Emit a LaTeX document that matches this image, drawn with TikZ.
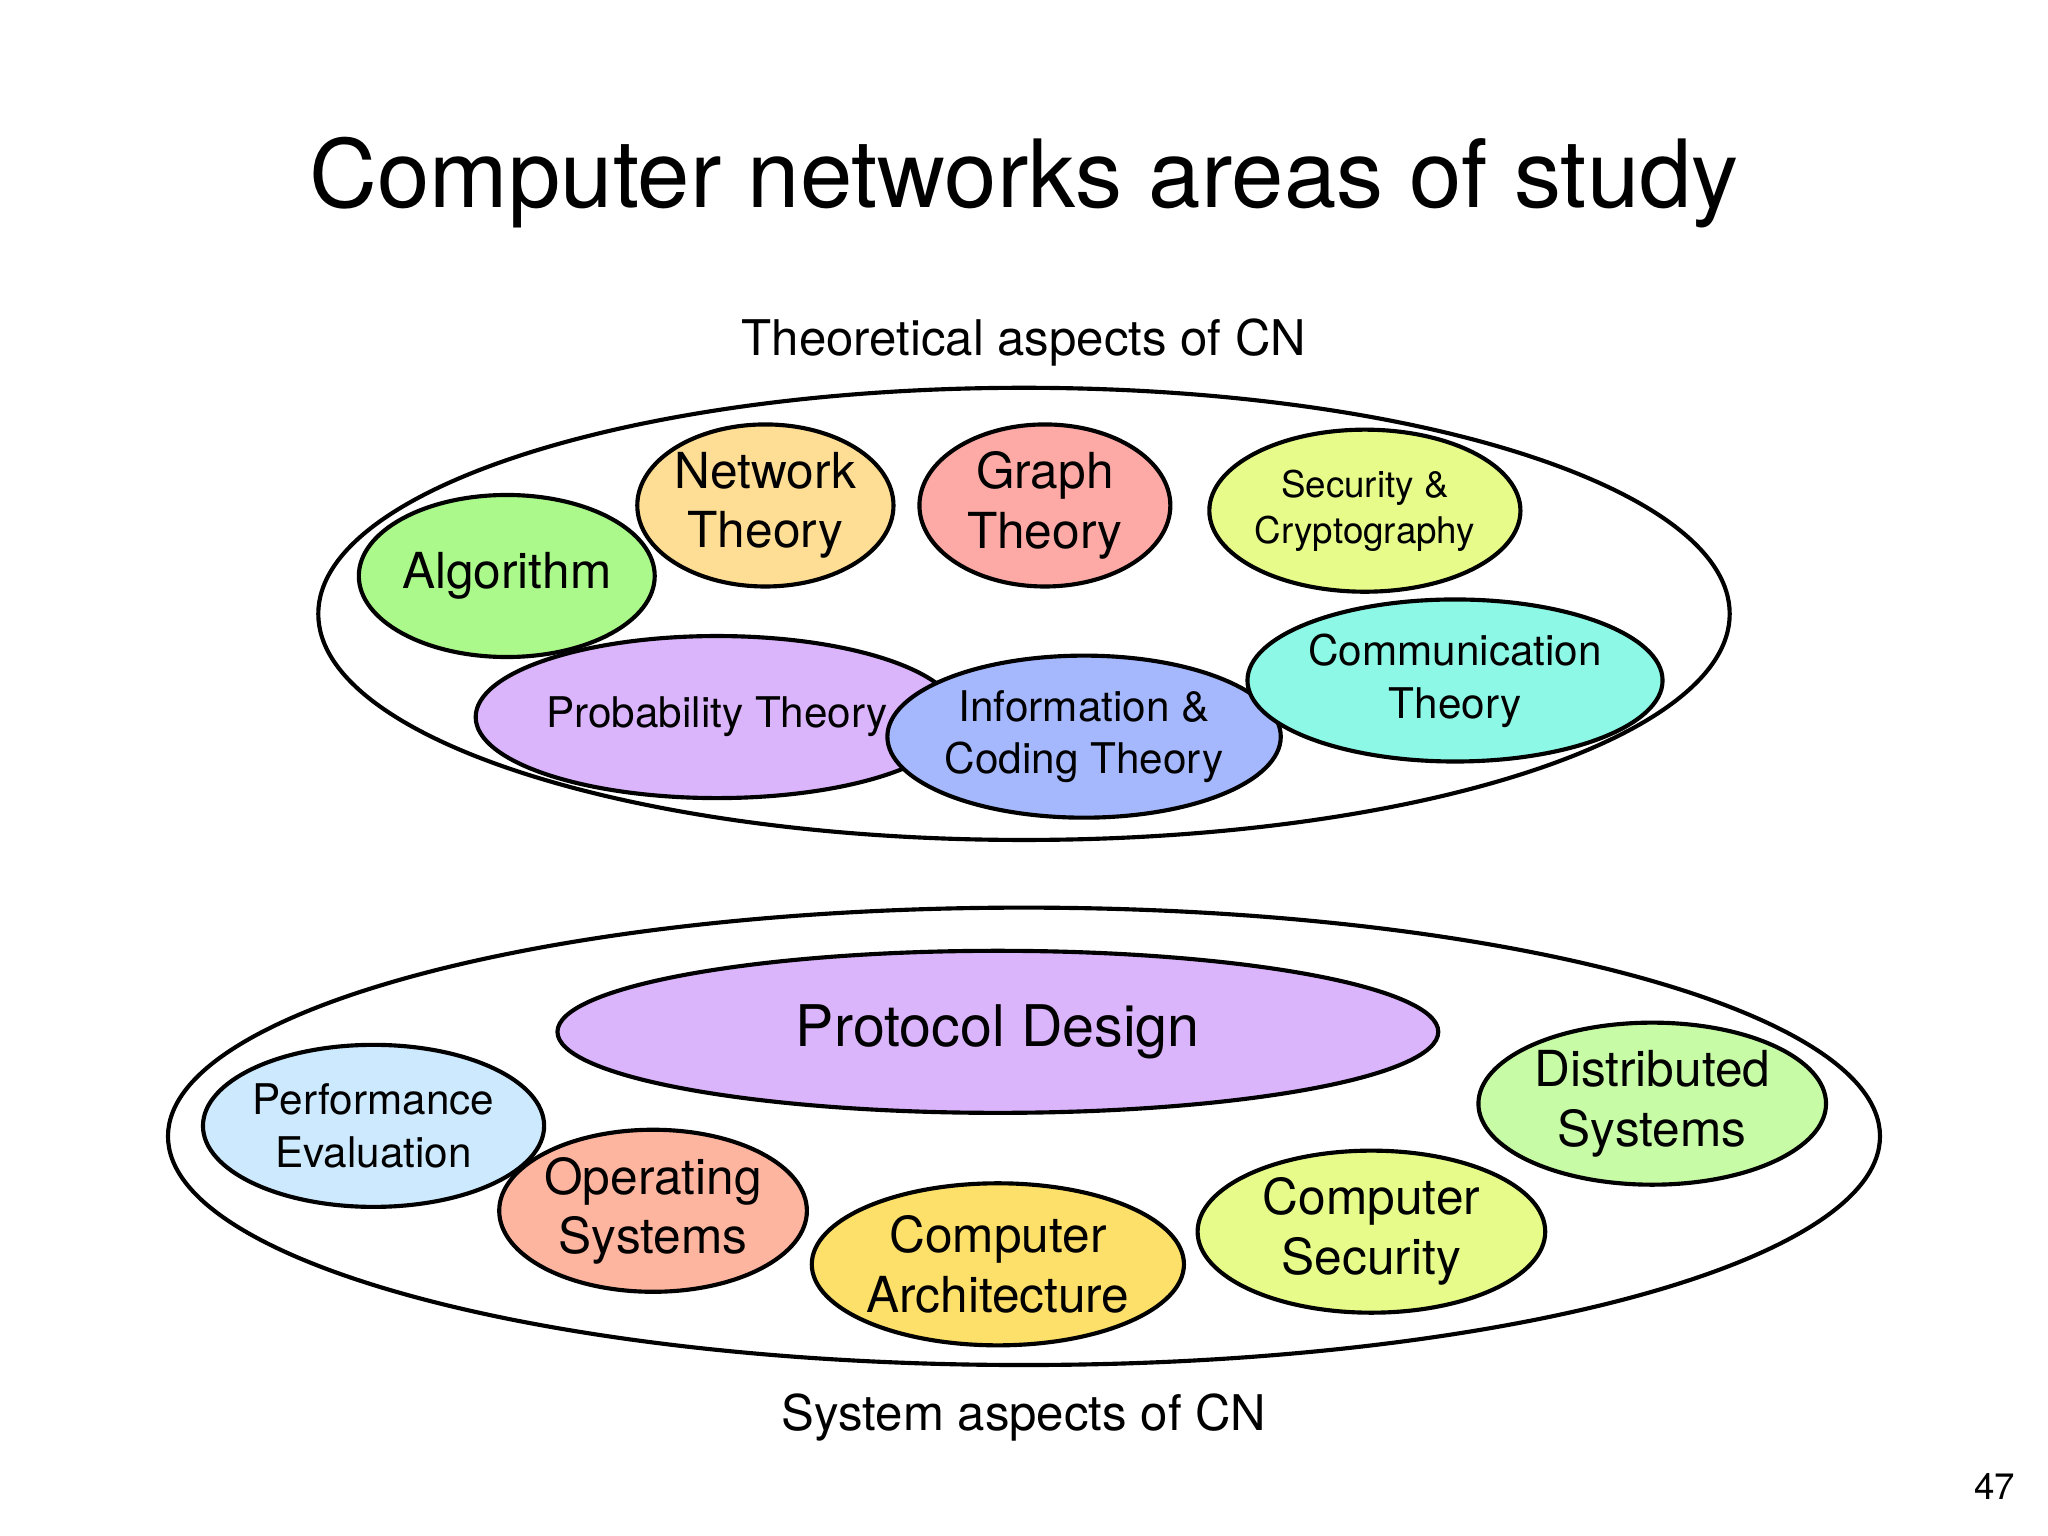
\documentclass[tikz,border=0pt]{standalone}
\usepackage{fontspec}
\setmainfont{TeX Gyre Heros}
\usetikzlibrary{shapes.geometric}
\begin{document}
\begin{tikzpicture}[x=0.01cm,y=-0.01cm,
  ov/.style={ellipse,draw=black,line width=0.9pt,inner sep=0pt,align=center},
  big/.style={font=\fontsize{10.8}{13}\selectfont},
  med/.style={font=\fontsize{9.2}{11.5}\selectfont},
  sml/.style={font=\fontsize{8}{10}\selectfont}]
\useasboundingbox (0,0) rectangle (1568,1176);
\node[font=\fontsize{20.5}{24}\selectfont] (title) at (784,140) {Computer networks areas of study};
\node[font=\fontsize{10.7}{13}\selectfont] (thl) at (784,262) {Theoretical aspects of CN};
\node[font=\fontsize{10.7}{13}\selectfont] (syl) at (784,1085) {System aspects of CN};
\node[font=\fontsize{8}{10}\selectfont] (pg) at (1527,1138) {47};
\node[ov,minimum width=1080\pgflinewidth,minimum width=10.8cm,minimum height=3.46cm] (top) at (784,470) {};
\node[ov,minimum width=13.1cm,minimum height=3.5cm] (bot) at (784,870) {};
\node[ov,big,fill={rgb,255:red,170;green,249;blue,138},minimum width=1.92cm,minimum height=1.24cm] (alg) at (388,441) {Algorithm};
\node[ov,big,fill={rgb,255:red,254;green,221;blue,148},minimum width=1.92cm,minimum height=1.24cm] (net) at (586,387) {Network\\Theory};
\node[ov,big,fill={rgb,255:red,253;green,170;blue,166},minimum width=1.92cm,minimum height=1.24cm] (gra) at (800,387) {Graph\\Theory};
\node[ov,sml,fill={rgb,255:red,230;green,251;blue,138},minimum width=2.38cm,minimum height=1.24cm] (sec) at (1045,391) {Security \&\\Cryptography};
\node[ov,med,fill={rgb,255:red,219;green,181;blue,251},minimum width=2.66cm,minimum height=1.24cm] (pro) at (549,549) {Probability Theory};
\node[ov,med,fill={rgb,255:red,166;green,184;blue,253},minimum width=2.66cm,minimum height=1.24cm] (inf) at (830,564) {Information \&\\Coding Theory};
\node[ov,med,fill={rgb,255:red,142;green,248;blue,230},minimum width=2.66cm,minimum height=1.24cm] (com) at (1114,521) {Communication\\Theory};
\node[ov,font=\fontsize{12.5}{15}\selectfont,fill={rgb,255:red,219;green,181;blue,251},minimum width=6.74cm,minimum height=1.24cm] (pd) at (764,790) {Protocol Design};
\node[ov,med,fill={rgb,255:red,205;green,233;blue,253},minimum width=2.2cm,minimum height=1.24cm] (pe) at (286,862) {Performance\\Evaluation};
\node[ov,big,fill={rgb,255:red,253;green,181;blue,160},minimum width=2.2cm,minimum height=1.24cm] (os) at (500,927) {Operating\\Systems};
\node[ov,big,fill={rgb,255:red,253;green,224;blue,106},minimum width=2.66cm,minimum height=1.24cm] (ca) at (764,968) {Computer\\Architecture};
\node[ov,big,fill={rgb,255:red,230;green,251;blue,138},minimum width=2.66cm,minimum height=1.24cm] (cs) at (1050,943) {Computer\\Security};
\node[ov,big,fill={rgb,255:red,200;green,251;blue,166},minimum width=2.66cm,minimum height=1.24cm] (ds) at (1265,845) {Distributed\\Systems};
\end{tikzpicture}
\end{document}
